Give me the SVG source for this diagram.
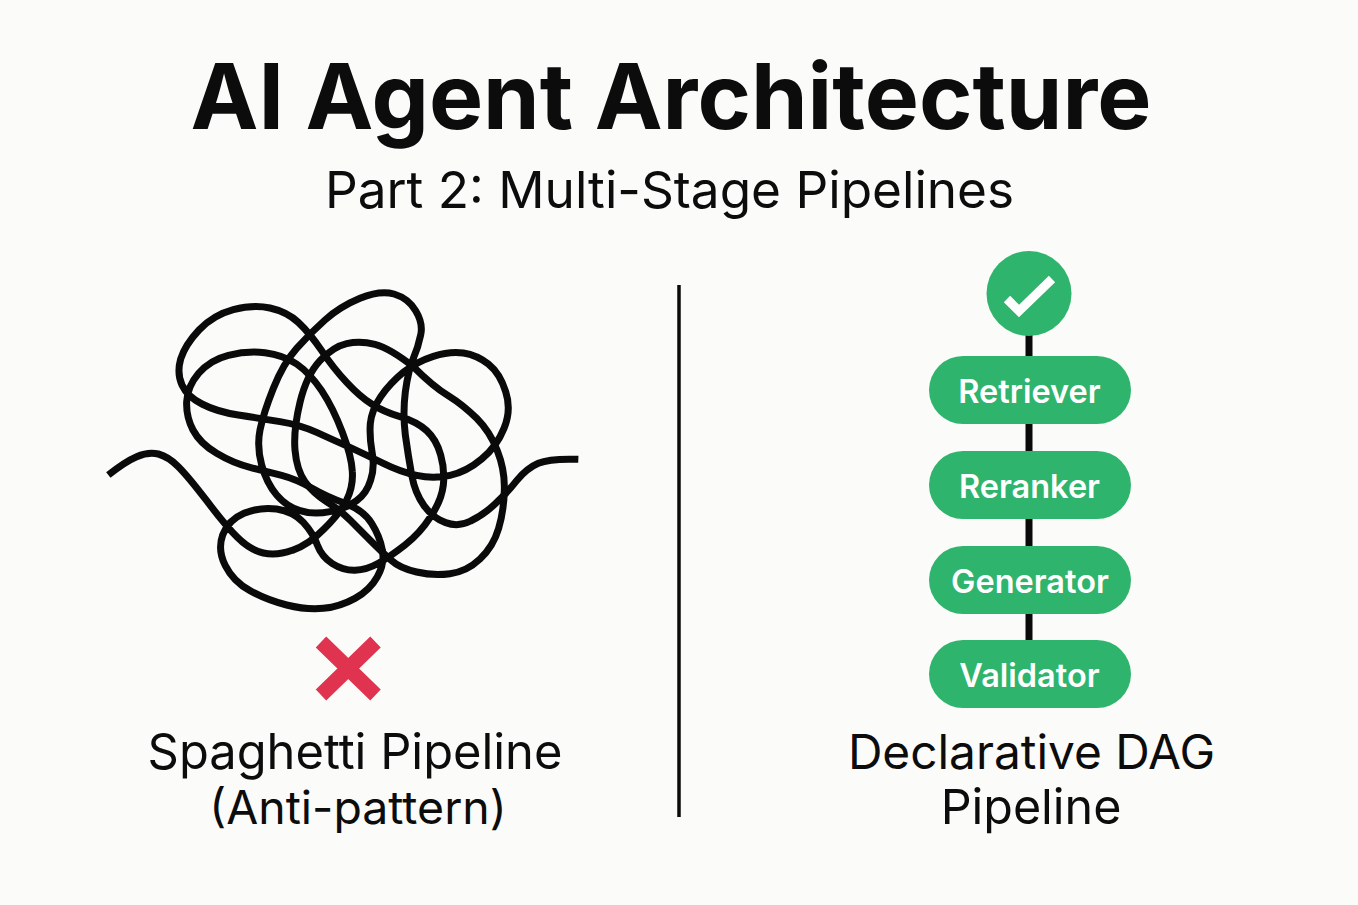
<svg xmlns="http://www.w3.org/2000/svg" width="1358" height="905" viewBox="0 0 1358 905">
<style>
.t{font-family:Inter,"Liberation Sans",sans-serif;fill:#0c0c0c}
.lab{text-anchor:middle;font-weight:400}
.pill{fill:#2eb46c}
.pt{font-family:Inter,"Liberation Sans",sans-serif;font-size:32.5px;font-weight:600;fill:#fff;text-anchor:middle}
.ln{stroke:#0a0a0a;fill:none;stroke-linejoin:round}
</style>
<rect width="1358" height="905" fill="#fbfbf9"/>
<text class="t" x="671" y="129" font-size="91" font-weight="700" text-anchor="middle">AI Agent Architecture</text>
<text class="t" x="669.5" y="207.500" font-size="51.3" text-anchor="middle">Part 2: Multi-Stage Pipelines</text>
<g id="tangle" transform="translate(100 280) scale(.33333)">
<path class="ln" stroke-width="21" d="M25 585Q75 545 110 530Q145 515 175 522Q205 530 235 560Q265 590 320 662Q375 735 412 772Q450 810 490 819Q530 828 577 811Q625 795 672 747Q720 700 740 660Q760 620 757 575Q755 530 727 457Q700 385 665 332Q630 280 590 252Q550 225 495 218Q440 212 385 226Q330 240 296 280Q262 320 260 365Q258 410 279 450Q300 490 350 520Q400 550 450 562Q500 575 545 586Q590 598 635 624Q680 650 735 670Q790 690 815 730Q840 770 847 810Q855 850 832 890Q810 930 765 955Q720 980 670 985Q620 990 560 975Q500 960 450 932Q400 905 376 857Q352 810 368 765Q385 720 432 700Q480 680 530 687Q580 695 610 727Q640 760 652 795Q665 830 697 851Q730 872 765 871Q800 870 835 850Q870 830 915 795Q960 760 992 710Q1025 660 1030 615Q1035 570 1022 525Q1010 480 980 452Q950 425 900 410Q850 395 815 372Q780 350 740 307Q700 265 665 212Q630 160 595 127Q560 95 510 84Q460 73 400 89Q340 105 297 150Q255 195 242 237Q230 280 246 315Q262 350 306 372Q350 395 415 405Q480 415 540 425Q600 435 650 457Q700 480 750 502Q800 525 850 550Q900 575 950 586Q1000 597 1050 586Q1100 575 1145 537Q1190 500 1212 445Q1235 390 1217 335Q1200 280 1165 252Q1130 225 1090 219Q1050 213 1000 229Q950 245 910 277Q870 310 842 350Q815 390 811 430Q808 470 816 515Q825 560 812 600Q800 640 770 662Q740 685 690 695Q640 705 600 692Q560 680 530 645Q500 610 485 555Q470 500 480 450Q490 400 520 325Q550 250 590 205Q630 160 675 120Q720 80 780 55Q840 30 882 42Q925 55 947 92Q970 130 962 165Q955 200 940 235Q925 270 916 335Q908 400 916 465Q925 530 935 585Q945 640 972 677Q1000 715 1037 728Q1075 742 1112 723Q1150 705 1185 672Q1220 640 1250 602Q1280 565 1315 550Q1350 535 1435 538"/>
<path class="ln" stroke-width="21" d="M940 260Q1000 320 1045 347Q1090 375 1130 415Q1170 455 1192 512Q1215 570 1213 630Q1212 690 1196 745Q1180 800 1140 837Q1100 875 1050 881Q1000 888 950 876Q900 865 875 842Q850 820 815 785Q780 750 750 720Q720 690 680 665Q640 640 615 605Q590 570 585 510Q580 450 600 367Q620 285 660 242Q700 200 740 191Q780 182 825 193Q870 205 940 260"/>
</g>
<g id="cross" stroke="#e0334f" stroke-width="15"><path d="M321 642L375.500 695M375.500 642L321 695"/></g>
<text class="t lab" x="355" y="768.500" font-size="48.8">Spaghetti Pipeline</text>
<text class="t lab" x="358" y="824" font-size="46.4">(Anti-pattern)</text>
<line id="divider" x1="679" y1="285" x2="679" y2="817" stroke="#0a0a0a" stroke-width="3.5"/>
<g id="connectors"><line x1="1029" y1="330" x2="1029" y2="650" stroke="#0a0a0a" stroke-width="7"/></g>
<g id="check"><circle class="pill" cx="1029" cy="293.500" r="42.500"/><path d="M1007 299L1019 311L1052 279" fill="none" stroke="#fff" stroke-width="9"/></g>
<g id="retriever"><rect class="pill" x="929" y="356" width="202" height="68" rx="34"/><text class="pt" x="1029.500" y="402.500">Retriever</text></g>
<g id="reranker"><rect class="pill" x="929" y="451" width="202" height="68" rx="34"/><text class="pt" x="1029.500" y="497.500">Reranker</text></g>
<g id="generator"><rect class="pill" x="929" y="546" width="202" height="68" rx="34"/><text class="pt" x="1030" y="592.500">Generator</text></g>
<g id="validator"><rect class="pill" x="929" y="640" width="202" height="68" rx="34"/><text class="pt" x="1029.500" y="686.500">Validator</text></g>
<text class="t lab" x="1031.500" y="768.500" font-size="47.8">Declarative DAG</text>
<text class="t lab" x="1031" y="824" font-size="48.4">Pipeline</text>
</svg>
